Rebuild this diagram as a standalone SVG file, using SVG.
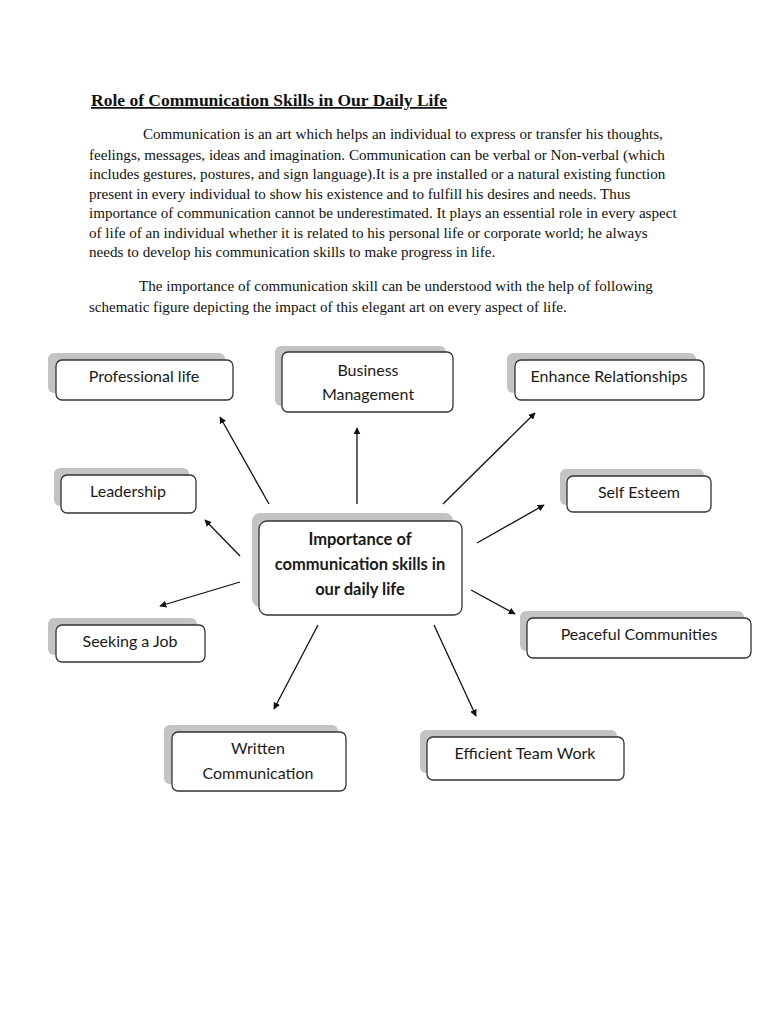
<svg xmlns="http://www.w3.org/2000/svg" width="768" height="1024" viewBox="0 0 768 1024">
<style>
.body{font-family:"Liberation Serif","Times New Roman",serif;font-size:15.1px;fill:#111}
.title{font-family:"Liberation Serif","Times New Roman",serif;font-size:17.5px;font-weight:bold;fill:#111;text-decoration:underline}
.sh{fill:#c3c3c3}
.bx{fill:#fff;stroke:#333;stroke-width:1.3}
.lb{font-family:Lato,"Open Sans",sans-serif;font-size:16px;fill:#1a1a1a;text-anchor:middle}
.cl{font-family:Lato,"Open Sans",sans-serif;font-size:16.5px;font-weight:bold;fill:#1a1a1a;text-anchor:middle}
.ar{stroke:#111;stroke-width:1.3;fill:none;marker-end:url(#ah)}
</style>
<defs>
<marker id="ah" viewBox="0 0 10 10" refX="9" refY="5" markerWidth="7" markerHeight="7" markerUnits="userSpaceOnUse" orient="auto">
<path d="M0,0 L10,5 L0,10 z" fill="#111"/>
</marker>
</defs>
<rect width="768" height="1024" fill="#fff"/>
<g id="text">
<text class="title" x="91" y="106">Role of Communication Skills in Our Daily Life</text>
<text class="body" x="143" y="139">Communication is an art which helps an individual to express or transfer his thoughts,</text>
<text class="body" x="89" y="160">feelings, messages, ideas and imagination. Communication can be verbal or Non-verbal (which</text>
<text class="body" x="89" y="179">includes gestures, postures, and sign language).It is a pre installed or a natural existing function</text>
<text class="body" x="89" y="199">present in every individual to show his existence and to fulfill his desires and needs. Thus</text>
<text class="body" x="89" y="218">importance of communication cannot be underestimated. It plays an essential role in every aspect</text>
<text class="body" x="89" y="238">of life of an individual whether it is related to his personal life or corporate world; he always</text>
<text class="body" x="89" y="257">needs to develop his communication skills to make progress in life.</text>
<text class="body" x="139" y="291">The importance of communication skill can be understood with the help of following</text>
<text class="body" x="89" y="312">schematic figure depicting the impact of this elegant art on every aspect of life.</text>
</g>
<g id="connectors">
<line class="ar" x1="269" y1="504" x2="220" y2="417"/>
<line class="ar" x1="357" y1="504" x2="357" y2="428"/>
<line class="ar" x1="443" y1="504" x2="535" y2="413"/>
<line class="ar" x1="240" y1="556" x2="205" y2="520"/>
<line class="ar" x1="477" y1="543" x2="544" y2="505"/>
<line class="ar" x1="240" y1="582" x2="160" y2="606"/>
<line class="ar" x1="471" y1="590" x2="515" y2="614"/>
<line class="ar" x1="318" y1="625" x2="274" y2="709"/>
<line class="ar" x1="434" y1="625" x2="476" y2="716"/>
</g>
<g id="center">
<rect class="sh" x="252" y="513" width="201" height="94" rx="8"/>
<rect class="bx" x="259" y="521" width="203" height="94" rx="8"/>
<text class="cl" x="360" y="545">Importance of</text>
<text class="cl" x="360" y="570">communication skills in</text>
<text class="cl" x="360" y="595">our daily life</text>
</g>
<g id="professional">
<rect class="sh" x="48" y="353" width="177" height="40" rx="6"/>
<rect class="bx" x="56" y="360" width="177" height="40" rx="6"/>
<text class="lb" x="144" y="382">Professional life</text>
</g>
<g id="business">
<rect class="sh" x="275" y="346" width="171" height="60" rx="6"/>
<rect class="bx" x="282" y="352" width="171" height="60" rx="6"/>
<text class="lb" x="368" y="376">Business</text>
<text class="lb" x="368" y="400">Management</text>
</g>
<g id="enhance">
<rect class="sh" x="507" y="353" width="189" height="40" rx="6"/>
<rect class="bx" x="515" y="360" width="189" height="40" rx="6"/>
<text class="lb" x="609" y="382">Enhance Relationships</text>
</g>
<g id="leadership">
<rect class="sh" x="54" y="468" width="135" height="38" rx="6"/>
<rect class="bx" x="61" y="475" width="135" height="38" rx="6"/>
<text class="lb" x="128" y="497">Leadership</text>
</g>
<g id="selfesteem">
<rect class="sh" x="560" y="469" width="144" height="36" rx="6"/>
<rect class="bx" x="567" y="476" width="144" height="36" rx="6"/>
<text class="lb" x="639" y="498">Self Esteem</text>
</g>
<g id="seekingjob">
<rect class="sh" x="48" y="618" width="149" height="37" rx="6"/>
<rect class="bx" x="56" y="625" width="149" height="37" rx="6"/>
<text class="lb" x="130" y="647">Seeking a Job</text>
</g>
<g id="peaceful">
<rect class="sh" x="520" y="611" width="224" height="40" rx="6"/>
<rect class="bx" x="527" y="618" width="224" height="40" rx="6"/>
<text class="lb" x="639" y="640">Peaceful Communities</text>
</g>
<g id="written">
<rect class="sh" x="164" y="725" width="174" height="59" rx="6"/>
<rect class="bx" x="172" y="732" width="174" height="59" rx="6"/>
<text class="lb" x="258" y="754">Written</text>
<text class="lb" x="258" y="779">Communication</text>
</g>
<g id="teamwork">
<rect class="sh" x="420" y="730" width="197" height="43" rx="6"/>
<rect class="bx" x="427" y="737" width="197" height="43" rx="6"/>
<text class="lb" x="525" y="759">Efficient Team Work</text>
</g>
</svg>
